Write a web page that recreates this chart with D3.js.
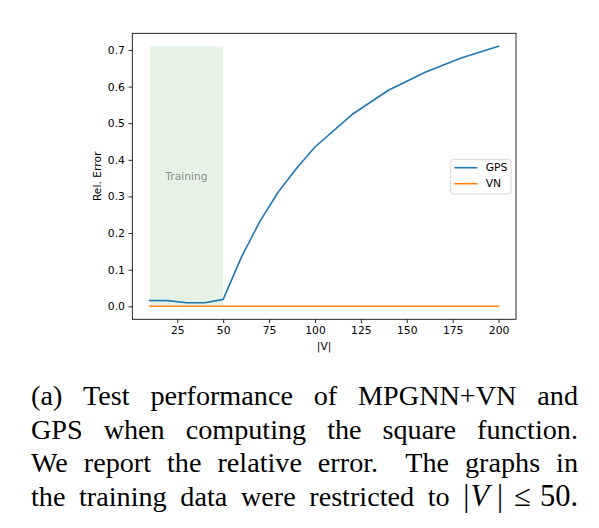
<!DOCTYPE html>
<html>
<head>
<meta charset="utf-8">
<script src="https://cdn.jsdelivr.net/npm/d3@7"></script>
<style>
  html, body { margin: 0; padding: 0; background: #fff; }
  svg { display: block; }
</style>
</head>
<body>
<svg id="chart" width="599" height="528"></svg>
<script>
// ---- data ----
const vertices = [10, 20, 30, 40, 50, 60, 70, 80, 90, 100, 120, 140, 160, 180, 200];
const gpsError = [0.016, 0.0155, 0.0095, 0.0095, 0.019, 0.135, 0.232, 0.312, 0.377, 0.435, 0.523, 0.590, 0.639, 0.679, 0.710];
const vnError  = [0, 0, 0, 0, 0, 0, 0, 0, 0, 0, 0, 0, 0, 0, 0];
const seriesNames = ["GPS", "VN"];
const trainingRange = [10, 50];
const trainingLabel = "Training";
const xTicks = [25, 50, 75, 100, 125, 150, 175, 200];
const yTicks = [0.0, 0.1, 0.2, 0.3, 0.4, 0.5, 0.6, 0.7];
const xLabel = "|V|";
const yLabel = "Rel. Error";
const captionLines = [
  ["(a)", "Test", "performance", "of", "MPGNN+VN", "and"],
  ["GPS", "when", "computing", "the", "square", "function."],
  ["We", "report", "the", "relative", "error.", "The", "graphs", "in"],
  ["the", "training", "data", "were", "restricted", "to", "|", "V", "|", "≤", "50."]
];

(function () {
// ---- layout ----
const svg = d3.select("#chart");
const pL = 132.3, pR = 516, pT = 33.3, pB = 319.3;
const font = "'DejaVu Sans', sans-serif";
const fs = 10.75;
const colors = ["#1f77b4", "#ff7f0e"];

const allY = gpsError.concat(vnError);
const yMin = d3.min(allY), yMax = d3.max(allY);
const yPad = (yMax - yMin) * 0.05;
const xMin = d3.min(vertices), xMax = d3.max(vertices);
const xPad = (xMax - xMin) * 0.05;

const x = d3.scaleLinear().domain([xMin - xPad, xMax + xPad]).range([pL, pR]);
const y = d3.scaleLinear().domain([yMin - yPad, yMax + yPad]).range([pB, pT]);

// training shading
svg.append("rect")
  .attr("x", x(trainingRange[0]))
  .attr("width", x(trainingRange[1]) - x(trainingRange[0]))
  .attr("y", y(yMax))
  .attr("height", y(0) - y(yMax))
  .attr("fill", "green").attr("fill-opacity", 0.1);

svg.append("text")
  .attr("x", x((trainingRange[0] + trainingRange[1]) / 2))
  .attr("y", y(yMax / 2))
  .attr("text-anchor", "middle").attr("dominant-baseline", "central")
  .attr("font-family", font).attr("font-size", fs)
  .attr("fill", "#808080").attr("fill-opacity", 0.9)
  .text(trainingLabel);

// lines
const line = d3.line().x((d, i) => x(vertices[i])).y(d => y(d));
[gpsError, vnError].forEach((s, k) => {
  svg.append("path").datum(s)
    .attr("d", line)
    .attr("fill", "none")
    .attr("stroke", colors[k])
    .attr("stroke-width", 1.6)
    .attr("stroke-linejoin", "round")
    .attr("stroke-linecap", "square");
});

// axes
const xAxis = d3.axisBottom(x).tickValues(xTicks).tickSize(3.8).tickPadding(3.6).tickFormat(d3.format("d"));
const yAxis = d3.axisLeft(y).tickValues(yTicks).tickSize(3.8).tickPadding(3.6).tickFormat(d3.format(".1f"));

const gx = svg.append("g").attr("transform", `translate(0,${pB})`).call(xAxis);
const gy = svg.append("g").attr("transform", `translate(${pL},0)`).call(yAxis);
[gx, gy].forEach(g => {
  g.select(".domain").remove();
  g.selectAll("line").attr("stroke", "#000").attr("stroke-width", 0.85);
  g.selectAll("text").attr("font-family", font).attr("font-size", fs).attr("fill", "#000");
});

// frame
svg.append("rect")
  .attr("x", pL).attr("y", pT)
  .attr("width", pR - pL).attr("height", pB - pT)
  .attr("fill", "none").attr("stroke", "#000").attr("stroke-width", 0.85);

// axis labels
svg.append("text")
  .attr("x", (pL + pR) / 2).attr("y", 350)
  .attr("text-anchor", "middle")
  .attr("font-family", font).attr("font-size", fs)
  .text(xLabel);

svg.append("text")
  .attr("transform", `translate(101,${(pT + pB) / 2}) rotate(-90)`)
  .attr("text-anchor", "middle")
  .attr("font-family", font).attr("font-size", fs)
  .text(yLabel);

// legend
const lg = svg.append("g");
lg.append("rect")
  .attr("x", 450.7).attr("y", 159.3).attr("width", 60.3).attr("height", 34.7)
  .attr("rx", 2.5).attr("fill", "#fff").attr("fill-opacity", 0.8)
  .attr("stroke", "#d0d0d0").attr("stroke-width", 0.85);
seriesNames.forEach((name, k) => {
  const ly = 167.7 + k * 16;
  lg.append("line")
    .attr("x1", 454.3).attr("x2", 477.3).attr("y1", ly).attr("y2", ly)
    .attr("stroke", colors[k]).attr("stroke-width", 1.6);
  lg.append("text")
    .attr("x", 485.7).attr("y", ly).attr("dominant-baseline", "central")
    .attr("font-family", font).attr("font-size", fs)
    .text(name);
});

// caption (justified, LaTeX-like spacing)
const capLeft = 31, capRight = 578;
const capBase = [405, 438.7, 472.3, 506];
const serif = "'Liberation Serif', 'Times New Roman', serif";
const capFs = 28.2, mathFs = 30.5;
captionLines.forEach((words, li) => {
  const g = svg.append("g");
  const nodes = words.map((w, i) => {
    const isMath = li === 3 && i >= 6;
    const t = g.append("text")
      .attr("y", capBase[li])
      .attr("font-family", serif).attr("font-size", isMath ? mathFs : capFs).attr("fill", "#000")
      .text(w);
    if (isMath && w === "V") t.attr("font-style", "italic");
    return t;
  });
  const widths = nodes.map(n => n.node().getComputedTextLength());
  // gap i lies between word i and word i+1: weight * g + extra
  const weights = [], extras = [];
  for (let i = 0; i < words.length - 1; i++) {
    let wgt = 1, ex = 0;
    if (/\.$/.test(words[i])) wgt = 1.7;
    if (li === 3 && i >= 6) {
      wgt = 0;
      const pair = words[i] + words[i + 1];
      if (pair === "|V") ex = 1;
      else if (pair === "V|") ex = 8;
      else if (pair === "|≤") ex = 11;
      else if (pair === "≤50.") ex = 9;
    }
    weights.push(wgt); extras.push(ex);
  }
  const free = capRight - capLeft - d3.sum(widths) - d3.sum(extras);
  const g0 = free / d3.sum(weights);
  let cx = capLeft;
  nodes.forEach((n, i) => {
    n.attr("x", cx);
    if (i < weights.length) cx += widths[i] + weights[i] * g0 + extras[i];
  });
});
})();
</script>
</body>
</html>
